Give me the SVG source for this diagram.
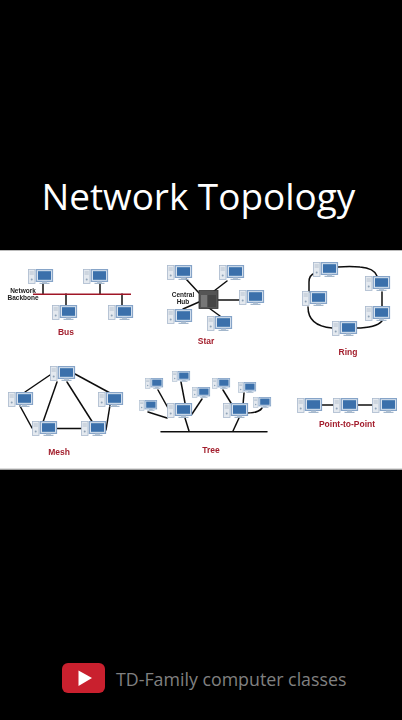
<svg xmlns="http://www.w3.org/2000/svg" xmlns:xlink="http://www.w3.org/1999/xlink" width="402" height="720" viewBox="0 0 402 720">
<style>
.w{fill:none;stroke:#111;stroke-width:1.5;stroke-linecap:round;stroke-linejoin:round}
.lb{font-family:"Liberation Sans",Arial,sans-serif;font-size:8.5px;font-weight:700;fill:#a31f2d;text-anchor:middle}
.sm{font-family:"Liberation Sans",Arial,sans-serif;font-size:6.5px;font-weight:700;fill:#222;text-anchor:middle}
</style>
<defs>
<filter id="soft" x="0" y="0" width="100%" height="100%"><feGaussianBlur stdDeviation="0.35"/></filter>
<g id="pc">
<rect x="0.4" y="0.4" width="6.6" height="14" fill="#e4e9ef" stroke="#a9bacd" stroke-width="0.8"/>
<rect x="1.600" y="2.500" width="4.200" height="1" fill="#b5c2d0"/>
<rect x="1.600" y="4.500" width="4.200" height="1" fill="#b5c2d0"/>
<circle cx="3.700" cy="10.500" r="1" fill="#8fa3b8"/>
<rect x="8.300" y="0.600" width="16.200" height="11.800" fill="#d8e3ef" stroke="#86a4c8" stroke-width="1.200"/>
<rect x="10" y="2.200" width="13" height="8.600" fill="#3a70ab"/>
<rect x="14" y="12.500" width="5" height="1.300" fill="#a9bccf"/>
<rect x="11.500" y="13.800" width="10" height="1.100" fill="#9ab0c7"/>
</g>
</defs>
<rect width="402" height="720" fill="#000"/>
<text x="198.300" y="210" font-family="'Open Sans','Noto Sans',sans-serif" font-size="36.900" fill="#fff" text-anchor="middle">Network Topology</text>
<rect x="0" y="250" width="402" height="219.500" fill="#fff"/>
<rect x="0" y="250" width="402" height="1" fill="#bbb"/>
<rect x="0" y="468.500" width="402" height="1" fill="#bbb"/>
<g filter="url(#soft)">
<g id="connectors">
<path class="w" d="M43 284V294M100 284V294M66 294V306M122 294V306"/>
<path class="w" d="M50 375L25 392M75 374L110 393M57 382L43 422M67 382L93 423M20 406L32 428M110 405L106 430M57 428.500H82"/>
<path d="M33 294.300H131" fill="none" stroke="#a01828" stroke-width="1.600"/>
<path class="w" d="M186 279L199 293M227 281L214 291M218 300H240M183 309L199 302M209 308L220 316"/>
<path class="w" d="M315 273Q309 275 309 282V292M308 307Q308 326 332 328M356 328Q376 328 382 321M382 292V307M338 267Q350 266 360 267Q374 268 377 276"/>
<path class="w" d="M161 431.700H267M185 418L189 431M239 418L233 431M158 390L168 408M181 382L185 403M202 399L192 414M148 412L167 418M223 390L231 403M244 393L243 405M247 413Q259 413 262 408"/>
<path class="w" d="M322 405H334M358 405H373"/>
</g>
<g id="bus"><use xlink:href="#pc" x="28" y="269"/><use xlink:href="#pc" x="83" y="269"/><use xlink:href="#pc" x="52" y="305"/><use xlink:href="#pc" x="108" y="305"/>
<text class="sm" x="23" y="293">Network</text><text class="sm" x="23" y="300">Backbone</text><text class="lb" x="66" y="335">Bus</text></g>
<g id="star"><use xlink:href="#pc" x="167" y="265"/><use xlink:href="#pc" x="219" y="265"/><use xlink:href="#pc" x="239" y="290"/><use xlink:href="#pc" x="167" y="309"/><use xlink:href="#pc" x="207" y="316"/>
<rect x="199" y="290.500" width="19" height="18" fill="#555" stroke="#333" stroke-width="0.800"/><rect x="201" y="295" width="6" height="12" fill="#777"/><rect x="208" y="295" width="8" height="12" fill="#444"/>
<text class="sm" x="183" y="297">Central</text><text class="sm" x="183" y="304">Hub</text><text class="lb" x="206" y="344">Star</text></g>
<g id="ring"><use xlink:href="#pc" x="313" y="262"/><use xlink:href="#pc" x="365" y="276"/><use xlink:href="#pc" x="302" y="291"/><use xlink:href="#pc" x="365" y="306"/><use xlink:href="#pc" x="332" y="321"/><text class="lb" x="348" y="355">Ring</text></g>
<g id="mesh"><use xlink:href="#pc" x="50" y="366"/><use xlink:href="#pc" x="8" y="392"/><use xlink:href="#pc" x="98" y="392"/><use xlink:href="#pc" x="32" y="421"/><use xlink:href="#pc" x="81" y="421"/><text class="lb" x="59" y="455">Mesh</text></g>
<g id="tree">
<use xlink:href="#pc" transform="translate(139 400) scale(.72)"/><use xlink:href="#pc" transform="translate(145 378) scale(.72)"/><use xlink:href="#pc" transform="translate(172 371) scale(.72)"/><use xlink:href="#pc" transform="translate(192 387) scale(.72)"/><use xlink:href="#pc" transform="translate(212 378) scale(.72)"/><use xlink:href="#pc" transform="translate(238 382) scale(.72)"/><use xlink:href="#pc" transform="translate(253 397) scale(.72)"/>
<use xlink:href="#pc" x="167" y="403"/><use xlink:href="#pc" x="223" y="403"/><text class="lb" x="211" y="453">Tree</text></g>
<g id="p2p"><use xlink:href="#pc" x="297" y="398"/><use xlink:href="#pc" x="333" y="398"/><use xlink:href="#pc" x="372" y="398"/><text class="lb" x="347" y="427">Point-to-Point</text></g>
</g>
<g id="footer"><rect x="62" y="663" width="43" height="30" rx="6" fill="#c9202e"/><path d="M78.500 670.500L92 678L78.500 686Z" fill="#fff"/>
<text x="116" y="686" font-family="'Open Sans','Noto Sans',sans-serif" font-size="17.800" fill="#808080">TD-Family computer classes</text></g>
</svg>
